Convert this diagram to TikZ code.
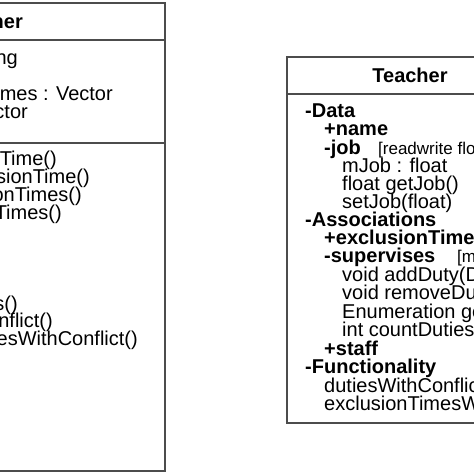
\documentclass[tikz,border=0pt]{standalone}
\usepackage{fontspec}
\setmainfont{Liberation Sans}
\tikzset{
  boxline/.style={draw=black!70, line width=1.6pt},
  txt/.style={inner sep=0pt, anchor=base west, font=\fontsize{20}{22}\selectfont},
  txtr/.style={inner sep=0pt, anchor=base east, font=\fontsize{20}{22}\selectfont},
  bld/.style={txt, font=\fontsize{20}{22}\selectfont\bfseries},
  small/.style={inner sep=0pt, anchor=base west, font=\fontsize{17}{19}\selectfont},
}
\begin{document}
\begin{tikzpicture}[x=1pt, y=-1pt]
\useasboundingbox (0,0) rectangle (474,474);
\clip (0,0) rectangle (474,474);
% left class box (partly outside)
\draw[boxline] (-195,3) rectangle (165,471);
\draw[boxline] (-195,40) -- (165,40);
\draw[boxline] (-195,143) -- (165,143);
\node[txtr, font=\fontsize{20}{22}\selectfont\bfseries] (lh) at (23,28) {Teacher};
\node[txtr] (la1) at (18,64) {name : String};
\node[txtr] (la3) at (113,100) {exclusionTimes : Vector};
\node[txtr] (la4) at (28,118) {duties : Vector};
\node[txtr] (lm1) at (57,165) {addExclusionTime()};
\node[txtr] (lm2) at (90,183) {removeExclusionTime()};
\node[txtr] (lm3) at (82,201) {getExclusionTimes()};
\node[txtr] (lm4) at (62,219) {countExclusionTimes()};
\node[txtr] (lm5) at (18,310) {getDuties()};
\node[txtr] (lm6) at (53,327) {hasConflict()};
\node[txtr] (lm7) at (138,345) {exclusionTimesWithConflict()};
% right class box (partly outside)
\draw[boxline] (287,57) rectangle (533,423);
\draw[boxline] (287,94) -- (533,94);
\node[inner sep=0pt, anchor=base, font=\fontsize{20}{22}\selectfont\bfseries] (rh) at (410,82) {Teacher};
\node[bld] (r1) at (305,117) {-Data};
\node[bld] (r2) at (324,135.5) {+name};
\node[bld] (r3) at (324,154) {-job};
\node[small] (r3b) at (378,154) {[readwrite float]};
\node[txt] (r4) at (342,172.5) {mJob : float};
\node[txt] (r5) at (342,190.5) {float getJob()};
\node[txt] (r6) at (342,208.5) {setJob(float)};
\node[bld] (r7) at (305,226.5) {-Associations};
\node[bld] (r8) at (324,244.5) {+exclusionTimes};
\node[bld] (r9) at (324,262.5) {-supervises};
\node[small] (r9b) at (457,262.5) {[many Duty]};
\node[txt] (r10) at (342,281) {void addDuty(Duty)};
\node[txt] (r11) at (342,299.5) {void removeDuty(Duty)};
\node[txt] (r12) at (342,318) {Enumeration getDuties()};
\node[txt] (r13) at (342,336.5) {int countDuties()};
\node[bld] (r14) at (324,355) {+staff};
\node[bld] (r15) at (305,373.5) {-Functionality};
\node[txt] (r16) at (324,392) {dutiesWithConflict()};
\node[txt] (r17) at (324,410) {exclusionTimesWithConflict()};
\end{tikzpicture}
\end{document}
